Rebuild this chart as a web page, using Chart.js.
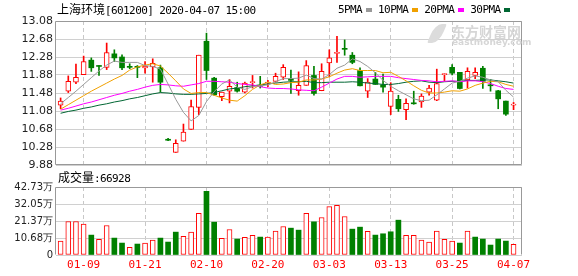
<!DOCTYPE html>
<html>
<head>
<meta charset="utf-8">
<script src="https://cdn.jsdelivr.net/npm/chart.js@4.4.0/dist/chart.umd.min.js"></script>
<style>
body{margin:0;width:578px;height:276px;background:#fff;position:relative;overflow:hidden;}
canvas{position:absolute;left:0;}
#kline{top:0;}
#vline{top:170px;}
.t{position:absolute;white-space:nowrap;color:#000;font-size:12px;line-height:14px;font-family:"Noto Sans CJK SC",sans-serif;}
.m{font-family:"DejaVu Sans Mono",monospace;font-size:11px;letter-spacing:-0.6px;}
.sq{display:inline-block;width:6px;height:4px;margin:0 6px 1px 4px;vertical-align:middle;}
.wm{position:absolute;color:#d6d6d6;font-weight:bold;white-space:nowrap;font-family:"Noto Sans CJK SC",sans-serif;}
.logo{position:absolute;left:431px;top:24px;width:12px;height:19px;background:#dcdcdc;border-radius:60% 10% 60% 10%;transform:skewX(-22deg);}
</style>
</head>
<body>
<canvas id="kline" width="578" height="180"></canvas>
<canvas id="vline" width="578" height="106"></canvas>
<div class="t" id="head" style="left:57px;top:2px;"></div>
<div class="t m" id="lgd" style="left:338px;top:3px;"></div>
<div class="t" id="vtxt" style="left:58px;top:170px;"></div>
<div class="logo"></div>
<div class="wm" style="left:451px;top:21px;font-size:14px;">东方财富网</div>
<div class="wm" style="left:452px;top:37px;font-size:9px;font-family:'DejaVu Sans',sans-serif;">eastmoney.com</div>
<script>
let stockName = '上海环境';
let stockCode = '601200';
let stamp = '2020-04-07 15:00';

let dates = ['01-06','01-07','01-08','01-09','01-10','01-13','01-14','01-15','01-16','01-17',
'01-20','01-21','01-22','01-23','02-03','02-04','02-05','02-06','02-07','02-10',
'02-11','02-12','02-13','02-14','02-17','02-18','02-19','02-20','02-21','02-24',
'02-25','02-26','02-27','02-28','03-02','03-03','03-04','03-05','03-06','03-09',
'03-10','03-11','03-12','03-13','03-16','03-17','03-18','03-19','03-20','03-23',
'03-24','03-25','03-26','03-27','03-30','03-31','04-01','04-02','04-03','04-07'];

let opens = [11.21,11.52,11.72,11.89,12.21,12.09,12.05,12.35,12.28,12.06,
12.07,12.04,12.06,12.04,10.44,10.16,10.41,10.67,11.16,12.63,
11.81,11.40,11.52,11.60,11.50,11.71,11.65,11.70,11.74,11.83,
11.80,11.53,11.65,11.87,11.53,12.15,12.36,12.47,12.32,11.98,
11.52,11.79,11.66,11.18,11.34,11.11,11.25,11.28,11.50,11.32,
11.89,12.05,11.94,11.77,11.87,12.03,11.65,11.53,11.30,11.21];
let highs = [11.37,11.86,12.12,12.30,12.26,12.09,12.59,12.44,12.33,12.13,
12.09,12.18,12.24,12.10,10.47,10.44,10.79,11.32,12.32,12.81,
11.83,11.50,11.78,11.72,11.72,11.87,11.85,11.76,11.92,12.11,
11.99,11.95,12.20,12.07,12.13,12.44,12.74,12.66,12.38,12.04,
11.80,11.94,11.90,11.71,11.43,11.35,11.52,11.46,11.65,12.01,
11.91,12.11,11.94,12.04,12.04,12.07,11.78,11.54,11.30,11.27];
let lows = [11.13,11.49,11.69,11.89,11.96,11.87,12.00,12.18,12.00,12.02,
11.82,11.92,11.72,11.50,10.42,10.16,10.41,10.67,11.00,11.78,
11.43,11.31,11.26,11.50,11.48,11.59,11.59,11.62,11.72,11.78,
11.47,11.43,11.65,11.43,11.53,11.84,12.16,12.32,12.13,11.64,
11.38,11.67,11.50,11.00,11.07,10.89,11.23,11.16,11.43,11.31,
11.75,11.88,11.57,11.59,11.80,11.58,11.52,11.13,10.98,11.11];
let closes = [11.30,11.74,11.83,12.18,12.04,12.07,12.38,12.26,12.04,12.05,
12.05,12.07,12.14,11.72,10.43,10.36,10.61,11.18,12.32,11.98,
11.44,11.50,11.63,11.52,11.70,11.73,11.63,11.72,11.85,12.05,
11.76,11.65,12.09,11.47,11.96,12.26,12.38,12.45,12.16,11.64,
11.72,11.67,11.61,11.52,11.13,11.25,11.24,11.41,11.59,11.69,
11.91,11.92,11.58,11.96,11.94,11.74,11.64,11.35,11.01,11.22];

let ma5 = [11.24,11.38,11.52,11.67,11.82,11.97,12.10,12.19,12.16,12.16,
12.16,12.09,12.07,12.01,11.68,11.34,11.05,10.86,10.98,11.29,
11.51,11.68,11.77,11.61,11.56,11.62,11.64,11.66,11.73,11.80,
11.80,11.81,11.88,11.80,11.79,11.89,12.03,12.10,12.24,12.18,
12.07,11.93,11.76,11.63,11.53,11.44,11.35,11.31,11.32,11.44,
11.57,11.70,11.74,11.81,11.86,11.83,11.77,11.73,11.54,11.39];
let ma10 = [11.12,11.22,11.32,11.42,11.52,11.61,11.70,11.79,11.87,11.99,
12.06,12.10,12.13,12.08,11.92,11.75,11.57,11.47,11.49,11.49,
11.43,11.37,11.32,11.30,11.42,11.56,11.66,11.72,11.67,11.68,
11.71,11.72,11.77,11.77,11.79,11.84,11.92,11.99,12.02,11.98,
11.98,11.98,11.93,11.94,11.85,11.75,11.64,11.54,11.48,11.48,
11.50,11.53,11.52,11.57,11.65,11.70,11.74,11.73,11.67,11.63];
let ma20 = [11.10,11.14,11.19,11.24,11.28,11.33,11.38,11.43,11.47,11.52,
11.56,11.61,11.65,11.67,11.66,11.64,11.63,11.66,11.69,11.74,
11.74,11.73,11.72,11.69,11.67,11.66,11.62,11.59,11.58,11.58,
11.57,11.55,11.54,11.53,11.61,11.70,11.79,11.85,11.85,11.83,
11.84,11.85,11.85,11.85,11.82,11.80,11.78,11.76,11.75,11.73,
11.74,11.75,11.73,11.75,11.75,11.73,11.69,11.63,11.58,11.56];
let ma30 = [11.03,11.07,11.10,11.14,11.17,11.21,11.24,11.28,11.31,11.35,
11.38,11.42,11.46,11.49,11.48,11.46,11.45,11.45,11.46,11.47,
11.49,11.53,11.57,11.59,11.62,11.64,11.66,11.68,11.70,11.72,
11.73,11.73,11.74,11.71,11.71,11.72,11.72,11.72,11.73,11.72,
11.70,11.69,11.67,11.67,11.69,11.72,11.74,11.75,11.72,11.71,
11.73,11.74,11.74,11.76,11.76,11.77,11.77,11.75,11.73,11.70];

let vols = [87500,210500,210500,193800,125100,98000,185500,106300,75000,47900,
68800,75000,93800,106300,81300,143800,116700,143800,262600,400200,
206300,104200,160500,100100,110500,123000,112600,112600,150100,179300,
168800,156300,262600,208400,235500,304300,312700,241800,162600,175100,
148000,125100,133400,145900,218900,123000,123000,93800,81300,150100,
98000,87500,75000,150100,112600,100100,62500,100100,87500,66928];
let volUp = [1,1,1,1,0,1,1,0,0,1, 0,1,1,0,0,0,1,1,1,0,
0,1,1,0,1,1,0,1,1,1, 0,0,1,0,1,1,1,1,0,0,
1,0,0,0,0,1,1,1,1,1, 1,1,0,1,0,0,0,0,0,1];

let priceTicks = [9.88,10.28,10.68,11.08,11.48,11.88,12.28,12.68,13.08];
let volTicks = [0,106825,213650,320475,427300];
let volTickLabels = ['0','10.68万','21.37万','32.05万','42.73万'];
let dateTicks = ['01-09','01-21','02-10','02-20','03-03','03-13','03-25','04-07'];
let maNames = ['5PMA','10PMA','20PMA','30PMA'];

let red = '#ff0000';
let grn = '#008000';
let maColors = ['#999999','#f0a000','#ff00ff','#006633'];

document.getElementById('head').innerHTML = stockName + '<span class="m">[' + stockCode + '] ' + stamp + '</span>';
let lg = '';
maNames.forEach((n, k) => {
  lg += n + '<span class="sq" style="background:' + maColors[k] + '"></span>';
});
document.getElementById('lgd').innerHTML = lg;
document.getElementById('vtxt').innerHTML = '成交量<span class="m">:' + vols[vols.length - 1] + '</span>';

let gridIdx = dateTicks.map(d => dates.indexOf(d));
let upk = closes.map((c, i) => c >= opens[i]);

// draws the gray box around the plot
const frame = {
  id: 'frame',
  afterDraw(chart, args, opts) {
    let a = chart.chartArea;
    let ctx = chart.ctx;
    let l = Math.round(a.left) - 0.5, r = Math.round(a.right) - 0.5;
    let t = Math.round(a.top) + 0.5, b = Math.round(a.bottom) - 0.5;
    ctx.save();
    ctx.strokeStyle = '#999';
    ctx.lineWidth = 1;
    ctx.beginPath();
    if (opts.bottom) {
      ctx.moveTo(l, b); ctx.lineTo(l, t); ctx.lineTo(r, t); ctx.lineTo(r, b); ctx.lineTo(l, b);
    } else {
      ctx.moveTo(l, b); ctx.lineTo(l, t); ctx.lineTo(r, t); ctx.lineTo(r, b);
    }
    ctx.stroke();
    ctx.restore();
  }
};

function xScale(showLabels) {
  return {
    type: 'linear',
    min: -0.6,
    max: 60.1,
    offset: false,
    afterBuildTicks: s => { s.ticks = gridIdx.map(v => ({value: v})); },
    ticks: {
      display: showLabels,
      autoSkip: false,
      maxRotation: 0,
      padding: 4,
      color: red,
      font: {family: 'DejaVu Sans Mono', size: 11},
      callback: v => dates[v]
    },
    grid: {color: '#c8c8c8', drawTicks: false, offset: false},
    border: {display: false, dash: [4, 3]}
  };
}

let kctx = document.getElementById('kline').getContext('2d');
let maSets = [ma5, ma10, ma20, ma30].map((arr, k) => ({
  type: 'line',
  data: arr.map((v, i) => ({x: i, y: v})),
  borderColor: maColors[k],
  borderWidth: 1,
  pointRadius: 0,
  fill: false,
  order: 0
}));

let kx = xScale(false);
kx.afterFit = s => { s.height = 0; };

new Chart(kctx, {
  type: 'bar',
  data: {
    datasets: maSets.concat([{
      data: closes.map((c, i) => ({x: i, y: [opens[i], c]})),
      backgroundColor: c => upk[c.dataIndex] ? '#ffffff' : grn,
      borderColor: c => upk[c.dataIndex] ? red : grn,
      borderWidth: c => upk[c.dataIndex] ? 1 : 0,
      borderSkipped: false,
      barThickness: 5,
      minBarLength: 1,
      grouped: false,
      order: 1
    }, {
      data: closes.map((c, i) => ({x: i, y: [lows[i], highs[i]]})),
      backgroundColor: c => upk[c.dataIndex] ? red : grn,
      barThickness: 1,
      grouped: false,
      order: 2
    }])
  },
  options: {
    responsive: false,
    animation: false,
    devicePixelRatio: 1,
    layout: {padding: {top: 21, right: 56, bottom: 15, left: 0}},
    plugins: {legend: {display: false}, tooltip: {enabled: false}, frame: {bottom: true}},
    scales: {
      x: kx,
      y: {
        min: 9.88,
        max: 13.08,
        afterBuildTicks: s => { s.ticks = priceTicks.map(v => ({value: v})); },
        afterFit: s => { s.width = 56; },
        ticks: {
          padding: 3,
          color: '#222',
          font: {family: 'DejaVu Sans', size: 11},
          callback: v => v.toFixed(2)
        },
        grid: {color: '#d0d0d0', drawTicks: false},
        border: {display: false}
      }
    }
  },
  plugins: [frame]
});

let vctx = document.getElementById('vline').getContext('2d');
let vx = xScale(true);
vx.afterFit = s => { s.height = 21; };

new Chart(vctx, {
  type: 'bar',
  data: {
    datasets: [{
      data: vols.map((v, i) => ({x: i, y: v})),
      backgroundColor: c => volUp[c.dataIndex] ? '#ffffff' : grn,
      borderColor: c => volUp[c.dataIndex] ? red : grn,
      borderWidth: c => volUp[c.dataIndex] ? 1 : 0,
      borderSkipped: false,
      barThickness: 5,
      grouped: false
    }]
  },
  options: {
    responsive: false,
    animation: false,
    devicePixelRatio: 1,
    layout: {padding: {top: 17, right: 56, bottom: 0, left: 0}},
    plugins: {legend: {display: false}, tooltip: {enabled: false}, frame: {bottom: false}},
    scales: {
      x: vx,
      y: {
        min: 0,
        max: 427300,
        afterBuildTicks: s => { s.ticks = volTicks.map(v => ({value: v})); },
        afterFit: s => { s.width = 56; },
        ticks: {
          padding: 3,
          color: '#222',
          font: {family: 'DejaVu Sans', size: 10},
          callback: (v, idx) => volTickLabels[idx]
        },
        grid: {color: '#d0d0d0', drawTicks: false},
        border: {display: false}
      }
    }
  },
  plugins: [frame]
});
</script>
</body>
</html>
